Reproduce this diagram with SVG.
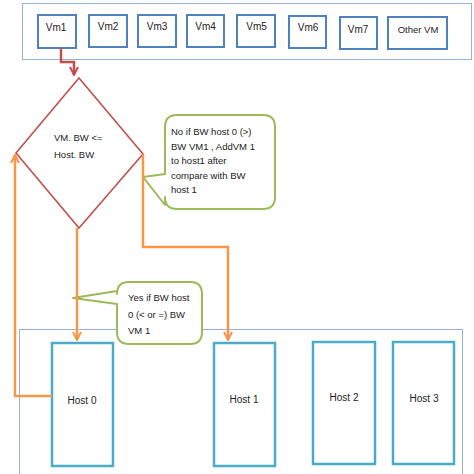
<svg xmlns="http://www.w3.org/2000/svg" width="474" height="474" viewBox="0 0 474 474">
<defs>
<style>
text{font-family:"Liberation Sans",Arial,sans-serif;font-size:10px;fill:#222}
.sm{font-size:9.5px}
.vm{fill:#fff;stroke:#4F81BD;stroke-width:2}
.host{fill:#fff;stroke:#4BACC6;stroke-width:2.5}
.cont{fill:none;stroke:#95B3D7;stroke-width:1}
.call{fill:#fff;stroke:#9BBB59;stroke-width:2;stroke-linejoin:round}
.or{fill:none;stroke:#F79646;stroke-width:2.5}
.c{text-anchor:middle}
</style>
<marker id="ao" viewBox="0 0 10 10" refX="9" refY="5" markerWidth="4" markerHeight="4" orient="auto" markerUnits="strokeWidth">
<path d="M1,1 L9,5 L1,9" fill="none" stroke="#F79646" stroke-width="2"/>
</marker>
<marker id="ar" viewBox="0 0 10 10" refX="9" refY="5" markerWidth="4" markerHeight="4" orient="auto" markerUnits="strokeWidth">
<path d="M1,1 L9,5 L1,9" fill="none" stroke="#C0504D" stroke-width="2"/>
</marker>
</defs>
<rect width="474" height="474" fill="#fff"/>
<rect id="vm-container" class="cont" x="22.5" y="3.5" width="449" height="56"/>
<rect id="host-container" class="cont" x="19.5" y="329.5" width="443" height="150"/>
<g id="vm1"><rect class="vm" x="38" y="15" width="38" height="33"/><text class="c" x="56" y="31">Vm1</text></g>
<g id="vm2"><rect class="vm" x="89" y="15" width="38" height="32"/><text class="c" x="108" y="30">Vm2</text></g>
<g id="vm3"><rect class="vm" x="138" y="15" width="38" height="32"/><text class="c" x="157" y="30">Vm3</text></g>
<g id="vm4"><rect class="vm" x="187" y="15" width="37" height="32"/><text class="c" x="205.5" y="30">Vm4</text></g>
<g id="vm5"><rect class="vm" x="237" y="15" width="38" height="32"/><text class="c" x="256.5" y="30">Vm5</text></g>
<g id="vm6"><rect class="vm" x="289" y="16" width="37" height="32"/><text class="c" x="308" y="31">Vm6</text></g>
<g id="vm7"><rect class="vm" x="340" y="17" width="37" height="32"/><text class="c" x="358" y="33">Vm7</text></g>
<g id="vm-other"><rect class="vm" x="388" y="17" width="59" height="32"/><text class="c sm" x="418" y="33">Other VM</text></g>
<g id="decision"><polygon points="79,78 143,154 79,228 16,153" fill="#fff" stroke="#C0504D" stroke-width="1.6"/><text class="sm" x="54" y="141">VM. BW &lt;=</text><text class="sm" x="54" y="158">Host. BW</text></g>
<g id="callout-no"><path class="call" d="M177,115 H263 Q275,115 275,127 V197 Q275,209 263,209 H177 Q165,209 165,197 L165,205 L143,177 L165,174 V127 Q165,115 177,115 Z"/>
<text class="sm" x="171" y="135">No if BW host 0 (&gt;)</text><text class="sm" x="171" y="150">BW VM1 , AddVM 1</text><text class="sm" x="171" y="164">to host1 after</text><text class="sm" x="171" y="179">compare with BW</text><text class="sm" x="171" y="193">host 1</text></g>
<g id="callout-yes"><path class="call" d="M129,282 H190 Q202,282 202,294 V332 Q202,344 190,344 H129 Q117,344 117,332 V304 L73,298 L117,291 V294 Q117,282 129,282 Z"/>
<text class="sm" x="128" y="301">Yes if BW host</text><text class="sm" x="128" y="318">0 (&lt; or =) BW</text><text class="sm" x="128" y="334">VM 1</text></g>
<g id="host0"><rect class="host" x="52" y="343" width="61" height="123"/><text class="c" x="82" y="404">Host 0</text></g>
<g id="host1"><rect class="host" x="214" y="343" width="61" height="123"/><text class="c" x="244" y="403">Host 1</text></g>
<g id="host2"><rect class="host" x="313" y="342" width="62" height="122"/><text class="c" x="344" y="401">Host 2</text></g>
<g id="host3"><rect class="host" x="393" y="342" width="61" height="122"/><text class="c" x="424" y="402">Host 3</text></g>
<g id="connectors">
<path d="M61,48 V62 H74 V75" fill="none" stroke="#C0504D" stroke-width="2.5" marker-end="url(#ar)"/>
<path class="or" d="M77,228 V340" marker-end="url(#ao)"/>
<path class="or" d="M143,154 V247 H228 V340" marker-end="url(#ao)"/>
<path class="or" d="M52,396 H15 V155" marker-end="url(#ao)"/>
</g>
</svg>
